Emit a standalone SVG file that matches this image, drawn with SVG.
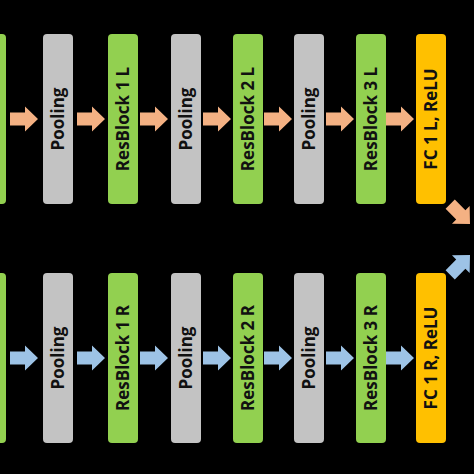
<svg xmlns="http://www.w3.org/2000/svg" width="474" height="474" viewBox="0 0 474 474">
<defs>
<style>
.bg{fill:#000}
.g{fill:#92D050}
.p{fill:#C3C3C3}
.o{fill:#FFC000}
.t{font-family:"Open Sans","DejaVu Sans",sans-serif;font-weight:700;font-size:17px;fill:#111;text-anchor:middle}
.ao{fill:#F4B183}
.ab{fill:#9DC3E6}
</style>
<path id="arr" d="M-28,-6.5 H-13 V-12.5 L0,0 L-13,12.5 V6.5 H-28 Z"/>
</defs>
<rect class="bg" x="0" y="0" width="474" height="474"/>
<g id="top-row">
<g id="L0"><rect class="g" x="-24" y="34" width="30" height="170" rx="4"/></g>
<g id="L-pool1"><rect class="p" x="43" y="34" width="30" height="170" rx="4"/><text class="t" transform="translate(58,119) rotate(-90)" y="6">Pooling</text></g>
<g id="L-res1"><rect class="g" x="108" y="34" width="30" height="170" rx="4"/><text class="t" transform="translate(123,119) rotate(-90)" y="6">ResBlock 1 L</text></g>
<g id="L-pool2"><rect class="p" x="171" y="34" width="30" height="170" rx="4"/><text class="t" transform="translate(186,119) rotate(-90)" y="6">Pooling</text></g>
<g id="L-res2"><rect class="g" x="233" y="34" width="30" height="170" rx="4"/><text class="t" transform="translate(248,119) rotate(-90)" y="6">ResBlock 2 L</text></g>
<g id="L-pool3"><rect class="p" x="294" y="34" width="30" height="170" rx="4"/><text class="t" transform="translate(309,119) rotate(-90)" y="6">Pooling</text></g>
<g id="L-res3"><rect class="g" x="356" y="34" width="30" height="170" rx="4"/><text class="t" transform="translate(371,119) rotate(-90)" y="6">ResBlock 3 L</text></g>
<g id="L-fc1"><rect class="o" x="416" y="34" width="30" height="170" rx="4"/><text class="t" transform="translate(431,119) rotate(-90)" y="6">FC 1 L, ReLU</text></g>
</g>
<g id="bottom-row">
<g id="R0"><rect class="g" x="-24" y="273" width="30" height="170" rx="4"/></g>
<g id="R-pool1"><rect class="p" x="43" y="273" width="30" height="170" rx="4"/><text class="t" transform="translate(58,358) rotate(-90)" y="6">Pooling</text></g>
<g id="R-res1"><rect class="g" x="108" y="273" width="30" height="170" rx="4"/><text class="t" transform="translate(123,358) rotate(-90)" y="6">ResBlock 1 R</text></g>
<g id="R-pool2"><rect class="p" x="171" y="273" width="30" height="170" rx="4"/><text class="t" transform="translate(186,358) rotate(-90)" y="6">Pooling</text></g>
<g id="R-res2"><rect class="g" x="233" y="273" width="30" height="170" rx="4"/><text class="t" transform="translate(248,358) rotate(-90)" y="6">ResBlock 2 R</text></g>
<g id="R-pool3"><rect class="p" x="294" y="273" width="30" height="170" rx="4"/><text class="t" transform="translate(309,358) rotate(-90)" y="6">Pooling</text></g>
<g id="R-res3"><rect class="g" x="356" y="273" width="30" height="170" rx="4"/><text class="t" transform="translate(371,358) rotate(-90)" y="6">ResBlock 3 R</text></g>
<g id="R-fc1"><rect class="o" x="416" y="273" width="30" height="170" rx="4"/><text class="t" transform="translate(431,358) rotate(-90)" y="6">FC 1 R, ReLU</text></g>
</g>
<g id="connectors">
<use href="#arr" class="ao" transform="translate(38,119)"/>
<use href="#arr" class="ao" transform="translate(105,119)"/>
<use href="#arr" class="ao" transform="translate(168,119)"/>
<use href="#arr" class="ao" transform="translate(231,119)"/>
<use href="#arr" class="ao" transform="translate(292,119)"/>
<use href="#arr" class="ao" transform="translate(354,119)"/>
<use href="#arr" class="ao" transform="translate(414,119)"/>
<use href="#arr" class="ao" transform="translate(470,224) rotate(45)"/>
<use href="#arr" class="ab" transform="translate(38,358)"/>
<use href="#arr" class="ab" transform="translate(105,358)"/>
<use href="#arr" class="ab" transform="translate(168,358)"/>
<use href="#arr" class="ab" transform="translate(231,358)"/>
<use href="#arr" class="ab" transform="translate(292,358)"/>
<use href="#arr" class="ab" transform="translate(354,358)"/>
<use href="#arr" class="ab" transform="translate(414,358)"/>
<use href="#arr" class="ab" transform="translate(470,255) rotate(-45)"/>
</g>
</svg>
